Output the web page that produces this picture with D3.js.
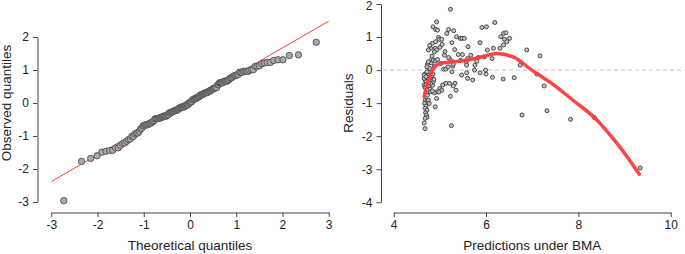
<!DOCTYPE html>
<html>
<head>
<meta charset="utf-8">
<script src="https://cdn.jsdelivr.net/npm/d3@7"></script>
<style>
    body { margin: 0; background: #fff; }
    svg { display: block; font-family: "Liberation Sans", Arial, sans-serif; }
    .axis path, .axis line { stroke: #444; }
    .axis text { fill: #222; font-size: 12px; }
    .title { fill: #222; font-size: 13.5px; }
</style>
</head>
<body>
<div id="chart"></div>
<script>
const predictions = [
    5.23, 4.93, 4.85, 4.91, 4.95, 5.19, 5.30, 5.15, 5.36, 5.44,
    5.48, 5.53, 4.84, 4.91, 4.97, 4.99, 5.04, 5.26, 4.80, 4.75,
    4.90, 5.00, 4.93, 5.11, 5.61, 5.87, 5.91, 6.01, 6.19, 6.32,
    6.38, 6.43, 6.40, 6.45, 6.51, 6.38, 6.30, 6.16, 6.03, 6.88,
    7.17, 6.74, 7.10, 7.26, 7.32, 6.78, 7.83, 8.35, 9.34, 6.61,
    6.37, 6.14, 6.00, 5.99, 6.13, 5.96, 5.83, 5.80, 5.76, 5.71,
    5.87, 5.75, 5.60, 5.58, 5.47, 5.57, 5.60, 5.58, 5.67, 5.40,
    5.49, 5.26, 5.28, 5.28, 5.22, 5.19, 5.29, 5.08, 5.13, 5.18,
    5.33, 5.35, 5.29, 5.23, 5.25, 5.13, 5.21, 5.06, 5.00, 5.04,
    4.93, 4.98, 4.88, 4.93, 4.86, 4.87, 4.90, 4.81, 4.82, 4.86,
    4.91, 4.95, 4.73, 4.75, 4.68, 4.71, 4.73, 4.75, 4.77, 4.68,
    4.70, 4.73, 4.75, 4.77, 4.79, 4.66, 4.68, 4.70, 4.71, 4.73,
    4.79, 4.80, 4.82, 4.84, 4.80, 4.84, 4.68, 4.72, 4.67, 4.70,
    4.68, 4.72, 4.69, 4.71, 4.72, 4.68, 4.66, 4.68, 4.75, 4.77,
    4.66, 4.66, 4.72, 4.80, 4.85, 4.70, 4.76, 4.78, 4.72, 4.88,
    5.02, 5.45, 4.83, 5.10, 4.78, 4.88, 5.05, 5.32
];
const residuals = [
    1.84, 1.46, 1.31, 1.23, 1.21, 1.23, 1.19, 1.11, 1.01, 0.96,
    0.96, 0.96, 0.81, 0.86, 0.99, 0.93, 0.93, 0.83, 0.66, 0.61,
    0.66, 0.69, 0.61, 0.56, 0.71, 0.83, 1.29, 1.31, 1.44, 1.01,
    1.11, 1.13, 0.93, 0.86, 0.96, 0.76, 0.66, 0.66, 0.61, 0.61,
    0.43, 0.15, -0.12, -0.48, -1.23, -1.36, -1.49, -1.44, -2.96, -0.23,
    -0.27, -0.22, -0.12, 0.00, 0.35, 0.40, 0.38, 0.27, 0.15, -0.30,
    -0.08, 0.00, -0.25, -0.08, -0.15, 0.25, 0.35, 0.15, 0.45, 0.47,
    0.47, -0.05, 0.12, 0.25, 0.32, 0.38, 0.18, 0.03, 0.03, 0.10,
    -0.40, -0.61, -0.48, -0.79, -1.68, -0.40, -0.40, -0.45, -0.56, -0.61,
    -0.66, -0.66, -0.69, -0.86, -0.35, -0.28, -1.11, 0.22, 0.32, 0.30,
    0.28, 0.32, 0.18, 0.25, -0.12, -0.15, -0.22, -0.10, -0.05, -0.30,
    -0.35, -0.42, -0.48, -0.47, -0.58, -0.45, -0.53, -0.44, -0.69, -0.76,
    -0.30, -0.22, -0.18, -0.46, -0.66, -0.63, -0.91, -0.94, -1.01, -1.09,
    -1.16, -1.21, -1.29, -1.36, -1.43, -1.46, -1.60, -1.77, -0.91, -1.01,
    -0.15, -0.25, -0.05, -0.40, -0.12, -0.20, -0.38, 0.05, 0.10, 0.12,
    0.20, 0.30, 0.42, 0.45, 0.75, 0.55, 0.78, 0.62
];

// smoother through the residuals
const smoothPred  = [4.66, 4.71, 4.80, 4.89, 5.00, 5.18, 5.43, 5.69, 5.94, 6.12, 6.23, 6.60, 6.99, 7.45, 7.89, 8.35, 8.85, 9.32];
const smoothResid = [-0.80, -0.50, -0.15, 0.10, 0.20, 0.24, 0.27, 0.33, 0.41, 0.48, 0.50, 0.39, 0.00, -0.43, -0.92, -1.44, -2.24, -3.15];

// reference line of the normal QQ plot
const qqIntercept = 0.05;
const qqSlope = 0.81;

const qqTicksX = [-3, -2, -1, 0, 1, 2, 3];
const qqTicksY = [-3, -2, -1, 0, 1, 2];
const resTicksX = [4, 6, 8, 10];
const resTicksY = [-4, -3, -2, -1, 0, 1, 2];

// inverse normal cdf (Acklam), for the theoretical quantiles
function qnorm(p) {
    const a = [-3.969683028665376e+01, 2.209460984245205e+02, -2.759285104469687e+02, 1.383577518672690e+02, -3.066479806614716e+01, 2.506628277459239e+00];
    const b = [-5.447609879822406e+01, 1.615858368580409e+02, -1.556989798598866e+02, 6.680131188771972e+01, -1.328068155288572e+01];
    const c = [-7.784894802227142e-03, -3.223964580411365e-01, -2.400758277161838e+00, -2.549732539343734e+00, 4.374664141464968e+00, 2.938163982698783e+00];
    const d = [7.784695709041462e-03, 3.224671290700398e-01, 2.445134137142996e+00, 3.754408661907416e+00];
    const lo = 0.02425;
    let q, r;
    if (p < lo) {
        q = Math.sqrt(-2 * Math.log(p));
        return (((((c[0]*q+c[1])*q+c[2])*q+c[3])*q+c[4])*q+c[5]) / ((((d[0]*q+d[1])*q+d[2])*q+d[3])*q+1);
    }
    if (p > 1 - lo) {
        q = Math.sqrt(-2 * Math.log(1 - p));
        return -(((((c[0]*q+c[1])*q+c[2])*q+c[3])*q+c[4])*q+c[5]) / ((((d[0]*q+d[1])*q+d[2])*q+d[3])*q+1);
    }
    q = p - 0.5; r = q * q;
    return (((((a[0]*r+a[1])*r+a[2])*r+a[3])*r+a[4])*r+a[5])*q / (((((b[0]*r+b[1])*r+b[2])*r+b[3])*r+b[4])*r+1);
}

const W = 685, H = 254;
const svg = d3.select("#chart").append("svg")
    .attr("width", W)
    .attr("height", H);

const fmt = d => String(d);

// ---------- left: normal QQ plot ----------
let sorted = residuals.slice().sort(d3.ascending);
let n = sorted.length;
let qqData = sorted.map((v, i) => ({x: qnorm((i + 0.5) / n), y: v}));

let qx = d3.scaleLinear().domain([-3, 3]).range([51.3, 328.7]);
let qy = d3.scaleLinear().domain([-3, 2]).range([202, 37]);

svg.append("g")
    .attr("class", "axis")
    .attr("transform", "translate(0,212.5)")
    .call(d3.axisBottom(qx).tickValues(qqTicksX).tickFormat(fmt).tickSize(4.5).tickSizeOuter(0).tickPadding(3));

svg.append("g")
    .attr("class", "axis")
    .attr("transform", "translate(37.5,0)")
    .call(d3.axisLeft(qy).tickValues(qqTicksY).tickFormat(fmt).tickSize(4.5).tickSizeOuter(0).tickPadding(4));

svg.append("line")
    .attr("x1", qx(-3)).attr("y1", qy(qqIntercept + qqSlope * -3))
    .attr("x2", qx(3)).attr("y2", qy(qqIntercept + qqSlope * 3))
    .attr("stroke", "#ff3b3b")
    .attr("stroke-width", 1);

svg.append("g").selectAll("circle")
    .data(qqData)
    .enter()
    .append("circle")
    .attr("cx", d => qx(d.x))
    .attr("cy", d => qy(d.y))
    .attr("r", 3.2)
    .attr("fill", "#a9a9a9")
    .attr("stroke", "#505050")
    .attr("stroke-width", 0.9);

svg.append("text")
    .attr("class", "title")
    .attr("text-anchor", "middle")
    .attr("x", qx(0))
    .attr("y", 250)
    .text("Theoretical quantiles");

svg.append("text")
    .attr("class", "title")
    .attr("text-anchor", "middle")
    .attr("transform", `translate(10.5,${qy(0)}) rotate(-90)`)
    .text("Observed quantiles");

// ---------- right: residuals vs predictions ----------
let rx = d3.scaleLinear().domain([4, 10]).range([393.7, 670.7]);
let ry = d3.scaleLinear().domain([-4, 2]).range([202.3, 4]);

svg.append("g")
    .attr("class", "axis")
    .attr("transform", "translate(0,212.5)")
    .call(d3.axisBottom(rx).tickValues(resTicksX).tickFormat(fmt).tickSize(4.5).tickSizeOuter(0).tickPadding(3));

let ryAxis = svg.append("g")
    .attr("class", "axis")
    .attr("transform", "translate(381,0)")
    .call(d3.axisLeft(ry).tickValues(resTicksY).tickFormat(fmt).tickSize(4.5).tickSizeOuter(0).tickPadding(4));

// top label sits against the edge, nudge it inside
ryAxis.selectAll(".tick text")
    .filter(d => d === 2)
    .attr("dy", "0.42em");

svg.append("line")
    .attr("x1", 383).attr("x2", W)
    .attr("y1", ry(0)).attr("y2", ry(0))
    .attr("stroke", "#c8c8c8")
    .attr("stroke-dasharray", "4,3");

let points = predictions.map((p, i) => ({x: p, y: residuals[i]}));

svg.append("g").selectAll("circle")
    .data(points)
    .enter()
    .append("circle")
    .attr("cx", d => rx(d.x))
    .attr("cy", d => ry(d.y))
    .attr("r", 2)
    .attr("fill", "#c4c4c4")
    .attr("stroke", "#3a3a3a")
    .attr("stroke-width", 0.9);

let smooth = smoothPred.map((p, i) => [rx(p), ry(smoothResid[i])]);

svg.append("path")
    .datum(smooth)
    .attr("d", d3.line().curve(d3.curveCatmullRom.alpha(0.5)))
    .attr("fill", "none")
    .attr("stroke", "#ff3b3b")
    .attr("stroke-opacity", 0.95)
    .attr("stroke-width", 3.5)
    .attr("stroke-linecap", "round");

svg.append("text")
    .attr("class", "title")
    .attr("text-anchor", "middle")
    .attr("x", rx(7))
    .attr("y", 250)
    .text("Predictions under BMA");

svg.append("text")
    .attr("class", "title")
    .attr("text-anchor", "middle")
    .attr("transform", `translate(352.5,${ry(-1)}) rotate(-90)`)
    .text("Residuals");
</script>
</body>
</html>
